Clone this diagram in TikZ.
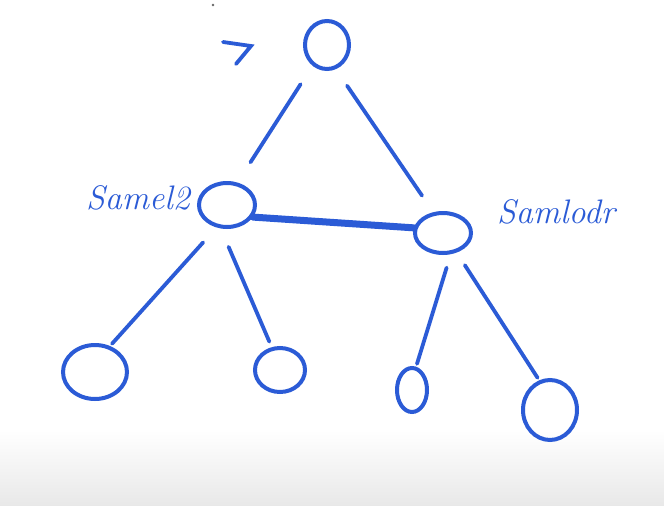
\documentclass[tikz,border=0pt]{standalone}
\usepackage{fontspec}
\usepackage{tikz}
\usetikzlibrary{shapes.geometric}
\definecolor{pen}{HTML}{2B5BD6}
\tikzset{
  vert/.style={draw=pen, line width=4pt, ellipse, inner sep=0pt},
  edge/.style={draw=pen, line width=3.8pt, line cap=round},
  bold/.style={draw=pen, line width=7pt, line cap=round},
  lbl/.style={text=pen, font=\fontsize{34}{38}\selectfont\itshape, inner sep=0pt}
}
\begin{document}
\begin{tikzpicture}[x=1pt,y=-1pt]
\useasboundingbox (0,0) rectangle (664,506);
\fill[white] (0,0) rectangle (664,506);
\shade[top color=white, bottom color=black!9] (0,430) rectangle (664,506);
% nodes
\node[vert, minimum width=44pt, minimum height=48pt] (root) at (327,45) {};
\node[vert, minimum width=56pt, minimum height=44pt] (L) at (227,205) {};
\node[vert, minimum width=56pt, minimum height=40pt] (R) at (443,233) {};
\node[vert, minimum width=64pt, minimum height=54pt] (LL) at (95,372) {};
\node[vert, minimum width=50pt, minimum height=44pt] (LR) at (280,370) {};
\node[vert, minimum width=30pt, minimum height=44pt] (RL) at (412,390) {};
\node[vert, minimum width=54pt, minimum height=60pt] (RR) at (550,410) {};
% labels
\node[lbl] (lblL) at (138,198) {Samel2};
\node[lbl] (lblR) at (556,212) {Samlodr};
% edges
\draw[edge, shorten <=22pt, shorten >=24pt] (root.235) -- (L.65);
\draw[edge, shorten <=20pt, shorten >=20pt] (root.290) -- (R.115);
\draw[bold] (L.-25) -- (R.170);
\draw[edge, shorten <=20pt, shorten >=3pt] (L.245) -- (LL.60);
\draw[edge, shorten <=20pt, shorten >=6pt] (L.255) -- (LR.110);
\draw[edge, shorten <=14pt, shorten >=3pt] (R.290) -- (RL.80);
\draw[edge, shorten <=15pt, shorten >=3pt] (R.305) -- (RR.110);
% marks
\coordinate (m1) at (223,42);
\coordinate (m2) at (251,46);
\coordinate (m3) at (236,64);
\draw[edge] (m1) -- (m2) -- (m3);
\fill[black!60] (213,5) circle (1.4pt);
\end{tikzpicture}
\end{document}
